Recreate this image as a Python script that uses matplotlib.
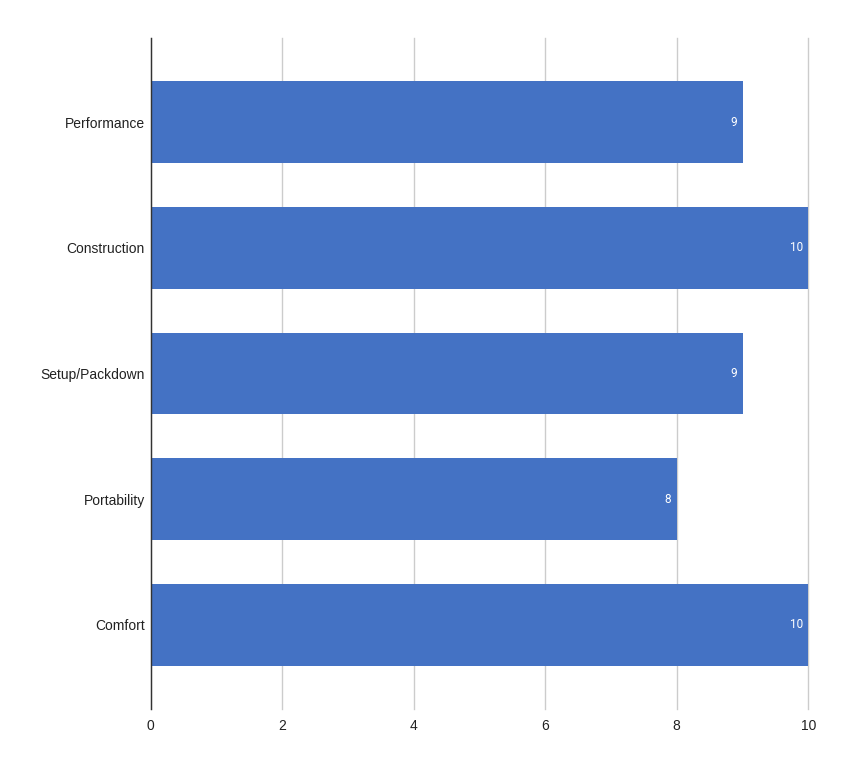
import matplotlib
matplotlib.use("Agg")
from matplotlib import pyplot as plt
import numpy as np

categories = ["Performance", "Construction", "Setup/Packdown", "Portability", "Comfort"]
scores = [9, 10, 9, 8, 10]
x_ticks = [0, 2, 4, 6, 8, 10]

def main():
  plt.rcParams['font.family'] = ['Liberation Sans', 'DejaVu Sans']
  fig = plt.figure(figsize=(8.47, 7.71), dpi=100)
  ax = fig.add_axes([150.5 / 847, 1 - 709 / 771, (808.3 - 150.5) / 847, (709 - 38) / 771])

  y = np.arange(len(categories))
  bars = ax.barh(y, scores, height=0.65, color="#4472c4", zorder=2)

  # value labels inside the bar ends
  for rect, v in zip(bars, scores):
    ax.text(rect.get_width() - 0.08, rect.get_y() + rect.get_height() / 2, str(v),
            ha="right", va="center", color="white", fontsize=8.5, family="Roboto", zorder=3)

  ax.set_xlim(0, 10)
  ax.set_ylim(len(categories) - 1 + 0.67, -0.67)
  ax.set_yticks(y)
  ax.set_yticklabels(categories)
  ax.set_xticks(x_ticks)
  ax.set_xticklabels([str(t) for t in x_ticks])
  ax.tick_params(axis="both", length=0, labelsize=10, colors="#222222")
  ax.tick_params(axis="y", pad=4)
  ax.tick_params(axis="x", pad=7)

  ax.grid(axis="x", color="#cccccc", linewidth=1, zorder=0)
  for line in ax.get_xgridlines():
    line.set_clip_on(False)
  for s in ["top", "right", "bottom"]:
    ax.spines[s].set_visible(False)
  ax.spines["left"].set_color("#333333")
  ax.spines["left"].set_linewidth(1)
  ax.spines["left"].set_zorder(4)

  fig.savefig("out.png", dpi=100)

if __name__ == '__main__':
  main()
